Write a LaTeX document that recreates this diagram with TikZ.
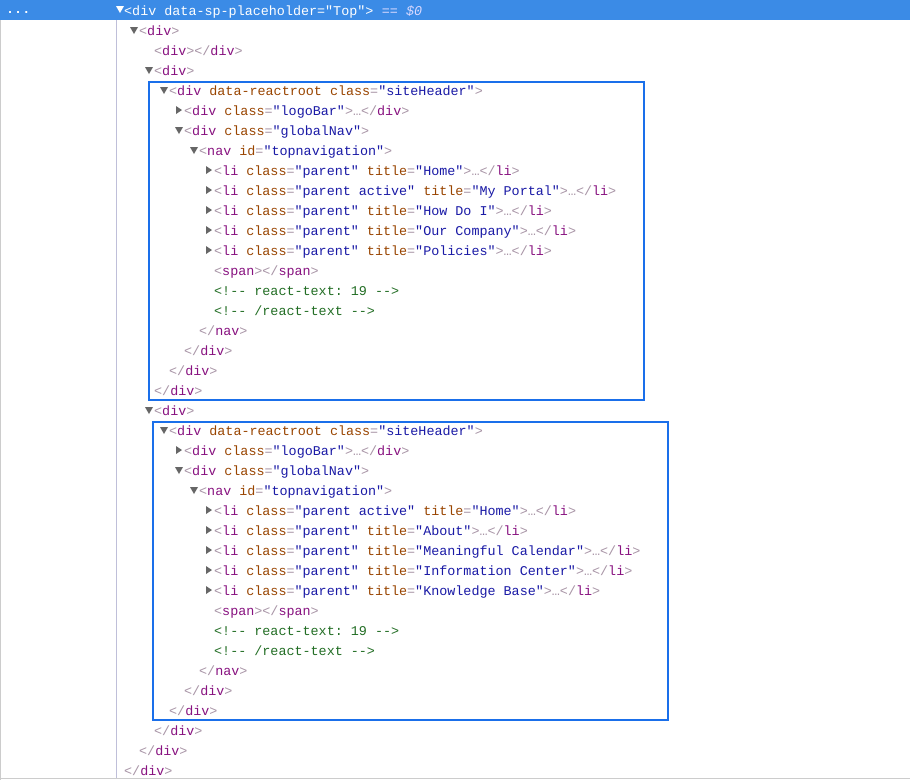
\documentclass[tikz,border=0pt]{standalone}
\usepackage{fontspec}
\setmonofont{Liberation Mono}
\definecolor{tagc}{HTML}{881280}
\definecolor{brkc}{HTML}{A894A6}
\definecolor{attc}{HTML}{994500}
\definecolor{valc}{HTML}{1A1AA6}
\definecolor{comc}{HTML}{236E25}
\definecolor{hlc}{HTML}{3B8BE6}
\definecolor{boxc}{HTML}{1A6FEA}
\newcommand\B[1]{\textcolor{brkc}{#1}}
\newcommand\T[1]{\textcolor{tagc}{#1}}
\newcommand\A[1]{\textcolor{attc}{#1}}
\newcommand\V[1]{\textcolor{valc}{#1}}
\newcommand\M[1]{\textcolor{comc}{#1}}
\newcommand\Op[1]{\B{<}\T{#1}}
\newcommand\Cl[1]{\B{</}\T{#1}\B{>}}
\newcommand\AV[2]{\A{#1}\B{=}\V{"#2"}}
\newcommand\Rw[4]{\node[rw] (#1) at ({124+15*#2},{15+20*#3}) {#4};}
\newcommand\TD[2]{\fill[tri] ({124+15*#1-9},{10+20*#2-3}) -- ++(8,0) -- ++(-4,7) -- cycle;}
\newcommand\TR[2]{\fill[tri] ({124+15*#1-8},{10+20*#2-4}) -- ++(0,8) -- ++(6,-4) -- cycle;}
\newcommand\LI[3]{\Rw{#1}{6}{#2}{\Op{li} \AV{class}{parent} \AV{title}{#3}\B{>…</}\T{li}\B{>}}}
\begin{document}
\begin{tikzpicture}[x=1pt,y=-1pt,
  rw/.style={anchor=base west,inner sep=0pt,font=\ttfamily\fontsize{13.4}{16}\selectfont},
  tri/.style={fill=black!60}]
\fill[white] (0,0) rectangle (910,780);
\useasboundingbox (0,0) rectangle (910,780);
\fill[hlc] (0,0) rectangle (910,20);
\draw[black!20] (0.5,20) -- (0.5,780);
\draw[black!20] (0,778.5) -- (910,778.5);
\draw[blue!25!gray!40] (116.5,20) -- (116.5,778);
\node[rw,text=white] (dots) at (6,13) {\bfseries ...};
\fill[white] (116,6) -- ++(8,0) -- ++(-4,7) -- cycle;
\node[rw,text=white] (r0) at (124,15) {<div data-sp-placeholder="Top">};
\node[rw,text=blue!15!white,anchor=base west] (eq) at (r0.base east) {\ \itshape == \$0};
\TD{1}{1}\Rw{r1}{1}{1}{\Op{div}\B{>}}
\Rw{r2}{2}{2}{\Op{div}\B{></}\T{div}\B{>}}
\TD{2}{3}\Rw{r3}{2}{3}{\Op{div}\B{>}}
\TD{3}{4}\Rw{r4}{3}{4}{\Op{div} \A{data-reactroot} \AV{class}{siteHeader}\B{>}}
\TR{4}{5}\Rw{r5}{4}{5}{\Op{div} \AV{class}{logoBar}\B{>…</}\T{div}\B{>}}
\TD{4}{6}\Rw{r6}{4}{6}{\Op{div} \AV{class}{globalNav}\B{>}}
\TD{5}{7}\Rw{r7}{5}{7}{\Op{nav} \AV{id}{topnavigation}\B{>}}
\TR{6}{8}\LI{r8}{8}{Home}
\TR{6}{9}\Rw{r9}{6}{9}{\Op{li} \AV{class}{parent active} \AV{title}{My Portal}\B{>…</}\T{li}\B{>}}
\TR{6}{10}\LI{r10}{10}{How Do I}
\TR{6}{11}\LI{r11}{11}{Our Company}
\TR{6}{12}\LI{r12}{12}{Policies}
\Rw{r13}{6}{13}{\Op{span}\B{></}\T{span}\B{>}}
\Rw{r14}{6}{14}{\M{<!-- react-text: 19 -->}}
\Rw{r15}{6}{15}{\M{<!-- /react-text -->}}
\Rw{r16}{5}{16}{\Cl{nav}}
\Rw{r17}{4}{17}{\Cl{div}}
\Rw{r18}{3}{18}{\Cl{div}}
\Rw{r19}{2}{19}{\Cl{div}}
\TD{2}{20}\Rw{r20}{2}{20}{\Op{div}\B{>}}
\TD{3}{21}\Rw{r21}{3}{21}{\Op{div} \A{data-reactroot} \AV{class}{siteHeader}\B{>}}
\TR{4}{22}\Rw{r22}{4}{22}{\Op{div} \AV{class}{logoBar}\B{>…</}\T{div}\B{>}}
\TD{4}{23}\Rw{r23}{4}{23}{\Op{div} \AV{class}{globalNav}\B{>}}
\TD{5}{24}\Rw{r24}{5}{24}{\Op{nav} \AV{id}{topnavigation}\B{>}}
\TR{6}{25}\Rw{r25}{6}{25}{\Op{li} \AV{class}{parent active} \AV{title}{Home}\B{>…</}\T{li}\B{>}}
\TR{6}{26}\LI{r26}{26}{About}
\TR{6}{27}\LI{r27}{27}{Meaningful Calendar}
\TR{6}{28}\LI{r28}{28}{Information Center}
\TR{6}{29}\LI{r29}{29}{Knowledge Base}
\Rw{r30}{6}{30}{\Op{span}\B{></}\T{span}\B{>}}
\Rw{r31}{6}{31}{\M{<!-- react-text: 19 -->}}
\Rw{r32}{6}{32}{\M{<!-- /react-text -->}}
\Rw{r33}{5}{33}{\Cl{nav}}
\Rw{r34}{4}{34}{\Cl{div}}
\Rw{r35}{3}{35}{\Cl{div}}
\Rw{r36}{2}{36}{\Cl{div}}
\Rw{r37}{1}{37}{\Cl{div}}
\Rw{r38}{0}{38}{\Cl{div}}
\draw[boxc,line width=2pt] (149,82) rectangle (644,400);
\draw[boxc,line width=2pt] (153,422) rectangle (668,720);
\end{tikzpicture}
\end{document}
